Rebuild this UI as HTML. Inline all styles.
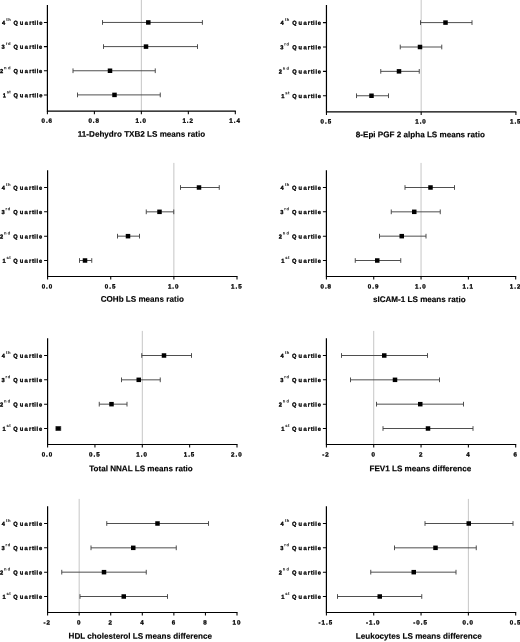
<!DOCTYPE html>
<html lang="en"><head><meta charset="utf-8"><title>Forest plots by quartile</title>
<style>html,body{margin:0;padding:0;background:#fff}body{width:520px;height:642px;overflow:hidden}svg{display:block}text{font-family:"Liberation Sans", sans-serif;font-weight:bold;fill:#000;stroke:#000;stroke-width:0.32px}.sp{stroke-width:0.08px}.tt{stroke-width:0.15px}.tk{stroke-width:0.3px}.lb{font-size:5.70px;letter-spacing:0.00px}.sp{font-size:4.10px;fill:#333;}.tk{font-size:6.20px;letter-spacing:1.00px}.tt{font-size:8.10px}</style></head><body>
<svg width="520" height="642" viewBox="0 0 520 642">
<rect x="0" y="0" width="520" height="642" fill="#ffffff"/>
<g>
<line x1="141.35" y1="0.00" x2="141.35" y2="111.10" stroke="#c6c6c6" stroke-width="1.00"/>
<path d="M102.50 22.45H202.40M102.50 20.10V24.80M202.40 20.10V24.80" stroke="#464646" stroke-width="0.95" fill="none"/>
<rect x="146.05" y="20.20" width="4.50" height="4.50" fill="#000"/>
<path d="M103.50 46.60H197.50M103.50 44.25V48.95M197.50 44.25V48.95" stroke="#464646" stroke-width="0.95" fill="none"/>
<rect x="143.75" y="44.35" width="4.50" height="4.50" fill="#000"/>
<path d="M73.00 70.75H155.25M73.00 68.40V73.10M155.25 68.40V73.10" stroke="#464646" stroke-width="0.95" fill="none"/>
<rect x="107.75" y="68.50" width="4.50" height="4.50" fill="#000"/>
<path d="M77.50 94.90H160.25M77.50 92.55V97.25M160.25 92.55V97.25" stroke="#464646" stroke-width="0.95" fill="none"/>
<rect x="112.25" y="92.65" width="4.50" height="4.50" fill="#000"/>
<path d="M47.40 5.10V111.10H235.83" stroke="#000" stroke-width="1.20" fill="none" stroke-linejoin="miter"/>
<path d="M47.40 22.45H43.90M47.40 46.60H43.90M47.40 70.75H43.90M47.40 94.90H43.90M47.40 111.10V114.20M94.38 111.10V114.20M141.35 111.10V114.20M188.33 111.10V114.20M235.30 111.10V114.20" stroke="#000" stroke-width="1.05" fill="none"/>
<text transform="rotate(0.05 1.89 24.70)" class="lb" x="1.89" y="24.70">4</text>
<text transform="rotate(0.05 6.25 20.90)" class="sp" x="6.25 8.15" y="20.90">th</text>
<text transform="rotate(0.05 13.47 24.70)" class="lb" x="13.47 19.87 24.78 29.15 32.16 34.41 36.71 39.13" y="24.70">Quartile</text>
<text transform="rotate(0.05 1.55 48.85)" class="lb" x="1.55" y="48.85">3</text>
<text transform="rotate(0.05 5.65 45.05)" class="sp" x="5.65 7.90" y="45.05">rd</text>
<text transform="rotate(0.05 13.47 48.85)" class="lb" x="13.47 19.87 24.78 29.15 32.16 34.41 36.71 39.13" y="48.85">Quartile</text>
<text transform="rotate(0.05 0.05 73.00)" class="lb" x="0.05" y="73.00">2</text>
<text transform="rotate(0.05 4.05 69.20)" class="sp" x="4.05 7.90" y="69.20">nd</text>
<text transform="rotate(0.05 13.47 73.00)" class="lb" x="13.47 19.87 24.78 29.15 32.16 34.41 36.71 39.13" y="73.00">Quartile</text>
<text transform="rotate(0.05 2.63 97.15)" class="lb" x="2.63" y="97.15">1</text>
<text transform="rotate(0.05 6.65 93.35)" class="sp" x="6.65 9.30" y="93.35">st</text>
<text transform="rotate(0.05 13.47 97.15)" class="lb" x="13.47 19.87 24.78 29.15 32.16 34.41 36.71 39.13" y="97.15">Quartile</text>
<text transform="rotate(0.05 47.25 122.75)" class="tk" x="47.25" y="122.75" text-anchor="middle">0.6</text>
<text transform="rotate(0.05 94.22 122.75)" class="tk" x="94.22" y="122.75" text-anchor="middle">0.8</text>
<text transform="rotate(0.05 141.20 122.75)" class="tk" x="141.20" y="122.75" text-anchor="middle">1.0</text>
<text transform="rotate(0.05 188.18 122.75)" class="tk" x="188.18" y="122.75" text-anchor="middle">1.2</text>
<text transform="rotate(0.05 235.15 122.75)" class="tk" x="235.15" y="122.75" text-anchor="middle">1.4</text>
<text transform="rotate(0.05 141.45 136.70)" class="tt" x="141.45" y="136.70" text-anchor="middle">11-Dehydro TXB2 LS means ratio</text>
</g>
<g>
<line x1="421.17" y1="0.00" x2="421.17" y2="111.90" stroke="#c6c6c6" stroke-width="1.00"/>
<path d="M420.50 22.60H472.00M420.50 20.25V24.95M472.00 20.25V24.95" stroke="#464646" stroke-width="0.95" fill="none"/>
<rect x="443.25" y="20.35" width="4.50" height="4.50" fill="#000"/>
<path d="M400.25 47.00H441.75M400.25 44.65V49.35M441.75 44.65V49.35" stroke="#464646" stroke-width="0.95" fill="none"/>
<rect x="417.75" y="44.75" width="4.50" height="4.50" fill="#000"/>
<path d="M380.75 71.35H419.25M380.75 69.00V73.70M419.25 69.00V73.70" stroke="#464646" stroke-width="0.95" fill="none"/>
<rect x="396.75" y="69.10" width="4.50" height="4.50" fill="#000"/>
<path d="M356.50 95.75H388.50M356.50 93.40V98.10M388.50 93.40V98.10" stroke="#464646" stroke-width="0.95" fill="none"/>
<rect x="369.25" y="93.50" width="4.50" height="4.50" fill="#000"/>
<path d="M326.45 5.10V111.90H516.42" stroke="#000" stroke-width="1.20" fill="none" stroke-linejoin="miter"/>
<path d="M326.45 22.60H322.95M326.45 47.00H322.95M326.45 71.35H322.95M326.45 95.75H322.95M326.45 111.90V115.00M421.17 111.90V115.00M515.90 111.90V115.00" stroke="#000" stroke-width="1.05" fill="none"/>
<text transform="rotate(0.05 280.59 24.85)" class="lb" x="280.59" y="24.85">4</text>
<text transform="rotate(0.05 284.95 21.05)" class="sp" x="284.95 286.85" y="21.05">th</text>
<text transform="rotate(0.05 292.17 24.85)" class="lb" x="292.17 298.57 303.48 307.85 310.86 313.11 315.41 317.83" y="24.85">Quartile</text>
<text transform="rotate(0.05 280.25 49.25)" class="lb" x="280.25" y="49.25">3</text>
<text transform="rotate(0.05 284.35 45.45)" class="sp" x="284.35 286.60" y="45.45">rd</text>
<text transform="rotate(0.05 292.17 49.25)" class="lb" x="292.17 298.57 303.48 307.85 310.86 313.11 315.41 317.83" y="49.25">Quartile</text>
<text transform="rotate(0.05 278.75 73.60)" class="lb" x="278.75" y="73.60">2</text>
<text transform="rotate(0.05 282.75 69.80)" class="sp" x="282.75 286.60" y="69.80">nd</text>
<text transform="rotate(0.05 292.17 73.60)" class="lb" x="292.17 298.57 303.48 307.85 310.86 313.11 315.41 317.83" y="73.60">Quartile</text>
<text transform="rotate(0.05 281.33 98.00)" class="lb" x="281.33" y="98.00">1</text>
<text transform="rotate(0.05 285.35 94.20)" class="sp" x="285.35 288.00" y="94.20">st</text>
<text transform="rotate(0.05 292.17 98.00)" class="lb" x="292.17 298.57 303.48 307.85 310.86 313.11 315.41 317.83" y="98.00">Quartile</text>
<text transform="rotate(0.05 326.30 123.55)" class="tk" x="326.30" y="123.55" text-anchor="middle">0.5</text>
<text transform="rotate(0.05 421.02 123.55)" class="tk" x="421.02" y="123.55" text-anchor="middle">1.0</text>
<text transform="rotate(0.05 515.75 123.55)" class="tk" x="515.75" y="123.55" text-anchor="middle">1.5</text>
<text transform="rotate(0.05 420.38 137.30)" class="tt" x="420.38" y="137.30" text-anchor="middle">8-Epi PGF 2 alpha LS means ratio</text>
</g>
<g>
<line x1="173.87" y1="162.90" x2="173.87" y2="276.50" stroke="#c6c6c6" stroke-width="1.00"/>
<path d="M180.50 187.50H219.25M180.50 185.15V189.85M219.25 185.15V189.85" stroke="#464646" stroke-width="0.95" fill="none"/>
<rect x="196.75" y="185.25" width="4.50" height="4.50" fill="#000"/>
<path d="M146.25 211.83H173.75M146.25 209.48V214.18M173.75 209.48V214.18" stroke="#464646" stroke-width="0.95" fill="none"/>
<rect x="157.25" y="209.58" width="4.50" height="4.50" fill="#000"/>
<path d="M117.50 236.17H139.50M117.50 233.82V238.52M139.50 233.82V238.52" stroke="#464646" stroke-width="0.95" fill="none"/>
<rect x="125.75" y="233.92" width="4.50" height="4.50" fill="#000"/>
<path d="M79.50 260.50H91.75M79.50 258.15V262.85M91.75 258.15V262.85" stroke="#464646" stroke-width="0.95" fill="none"/>
<rect x="82.75" y="258.25" width="4.50" height="4.50" fill="#000"/>
<path d="M47.60 170.20V276.50H237.53" stroke="#000" stroke-width="1.20" fill="none" stroke-linejoin="miter"/>
<path d="M47.60 187.50H44.10M47.60 211.83H44.10M47.60 236.17H44.10M47.60 260.50H44.10M47.60 276.50V279.60M110.73 276.50V279.60M173.87 276.50V279.60M237.00 276.50V279.60" stroke="#000" stroke-width="1.05" fill="none"/>
<text transform="rotate(0.05 1.74 189.75)" class="lb" x="1.74" y="189.75">4</text>
<text transform="rotate(0.05 6.10 185.95)" class="sp" x="6.10 8.00" y="185.95">th</text>
<text transform="rotate(0.05 13.32 189.75)" class="lb" x="13.32 19.72 24.63 29.00 32.01 34.26 36.56 38.98" y="189.75">Quartile</text>
<text transform="rotate(0.05 1.40 214.08)" class="lb" x="1.40" y="214.08">3</text>
<text transform="rotate(0.05 5.50 210.28)" class="sp" x="5.50 7.75" y="210.28">rd</text>
<text transform="rotate(0.05 13.32 214.08)" class="lb" x="13.32 19.72 24.63 29.00 32.01 34.26 36.56 38.98" y="214.08">Quartile</text>
<text transform="rotate(0.05 -0.10 238.42)" class="lb" x="-0.10" y="238.42">2</text>
<text transform="rotate(0.05 3.90 234.62)" class="sp" x="3.90 7.75" y="234.62">nd</text>
<text transform="rotate(0.05 13.32 238.42)" class="lb" x="13.32 19.72 24.63 29.00 32.01 34.26 36.56 38.98" y="238.42">Quartile</text>
<text transform="rotate(0.05 2.48 262.75)" class="lb" x="2.48" y="262.75">1</text>
<text transform="rotate(0.05 6.50 258.95)" class="sp" x="6.50 9.15" y="258.95">st</text>
<text transform="rotate(0.05 13.32 262.75)" class="lb" x="13.32 19.72 24.63 29.00 32.01 34.26 36.56 38.98" y="262.75">Quartile</text>
<text transform="rotate(0.05 47.45 288.60)" class="tk" x="47.45" y="288.60" text-anchor="middle">0.0</text>
<text transform="rotate(0.05 110.58 288.60)" class="tk" x="110.58" y="288.60" text-anchor="middle">0.5</text>
<text transform="rotate(0.05 173.72 288.60)" class="tk" x="173.72" y="288.60" text-anchor="middle">1.0</text>
<text transform="rotate(0.05 236.85 288.60)" class="tk" x="236.85" y="288.60" text-anchor="middle">1.5</text>
<text transform="rotate(0.05 142.25 301.80)" class="tt" x="142.25" y="301.80" text-anchor="middle">COHb LS means ratio</text>
</g>
<g>
<line x1="421.05" y1="162.90" x2="421.05" y2="276.50" stroke="#c6c6c6" stroke-width="1.00"/>
<path d="M405.00 187.50H454.50M405.00 185.15V189.85M454.50 185.15V189.85" stroke="#464646" stroke-width="0.95" fill="none"/>
<rect x="428.25" y="185.25" width="4.50" height="4.50" fill="#000"/>
<path d="M391.25 211.83H440.25M391.25 209.48V214.18M440.25 209.48V214.18" stroke="#464646" stroke-width="0.95" fill="none"/>
<rect x="412.00" y="209.58" width="4.50" height="4.50" fill="#000"/>
<path d="M379.50 236.17H426.00M379.50 233.82V238.52M426.00 233.82V238.52" stroke="#464646" stroke-width="0.95" fill="none"/>
<rect x="399.50" y="233.92" width="4.50" height="4.50" fill="#000"/>
<path d="M355.25 260.50H400.75M355.25 258.15V262.85M400.75 258.15V262.85" stroke="#464646" stroke-width="0.95" fill="none"/>
<rect x="375.00" y="258.25" width="4.50" height="4.50" fill="#000"/>
<path d="M326.40 170.20V276.50H516.23" stroke="#000" stroke-width="1.20" fill="none" stroke-linejoin="miter"/>
<path d="M326.40 187.50H322.90M326.40 211.83H322.90M326.40 236.17H322.90M326.40 260.50H322.90M326.40 276.50V279.60M373.73 276.50V279.60M421.05 276.50V279.60M468.38 276.50V279.60M515.70 276.50V279.60" stroke="#000" stroke-width="1.05" fill="none"/>
<text transform="rotate(0.05 280.54 189.75)" class="lb" x="280.54" y="189.75">4</text>
<text transform="rotate(0.05 284.90 185.95)" class="sp" x="284.90 286.80" y="185.95">th</text>
<text transform="rotate(0.05 292.12 189.75)" class="lb" x="292.12 298.52 303.43 307.80 310.81 313.06 315.36 317.78" y="189.75">Quartile</text>
<text transform="rotate(0.05 280.20 214.08)" class="lb" x="280.20" y="214.08">3</text>
<text transform="rotate(0.05 284.30 210.28)" class="sp" x="284.30 286.55" y="210.28">rd</text>
<text transform="rotate(0.05 292.12 214.08)" class="lb" x="292.12 298.52 303.43 307.80 310.81 313.06 315.36 317.78" y="214.08">Quartile</text>
<text transform="rotate(0.05 278.70 238.42)" class="lb" x="278.70" y="238.42">2</text>
<text transform="rotate(0.05 282.70 234.62)" class="sp" x="282.70 286.55" y="234.62">nd</text>
<text transform="rotate(0.05 292.12 238.42)" class="lb" x="292.12 298.52 303.43 307.80 310.81 313.06 315.36 317.78" y="238.42">Quartile</text>
<text transform="rotate(0.05 281.28 262.75)" class="lb" x="281.28" y="262.75">1</text>
<text transform="rotate(0.05 285.30 258.95)" class="sp" x="285.30 287.95" y="258.95">st</text>
<text transform="rotate(0.05 292.12 262.75)" class="lb" x="292.12 298.52 303.43 307.80 310.81 313.06 315.36 317.78" y="262.75">Quartile</text>
<text transform="rotate(0.05 326.25 288.60)" class="tk" x="326.25" y="288.60" text-anchor="middle">0.8</text>
<text transform="rotate(0.05 373.58 288.60)" class="tk" x="373.58" y="288.60" text-anchor="middle">0.9</text>
<text transform="rotate(0.05 420.90 288.60)" class="tk" x="420.90" y="288.60" text-anchor="middle">1.0</text>
<text transform="rotate(0.05 468.23 288.60)" class="tk" x="468.23" y="288.60" text-anchor="middle">1.1</text>
<text transform="rotate(0.05 515.55 288.60)" class="tk" x="515.55" y="288.60" text-anchor="middle">1.2</text>
<text transform="rotate(0.05 419.25 302.10)" class="tt" x="419.25" y="302.10" text-anchor="middle">sICAM-1 LS means ratio</text>
</g>
<g>
<line x1="142.30" y1="330.90" x2="142.30" y2="444.50" stroke="#c6c6c6" stroke-width="1.00"/>
<path d="M141.75 355.50H191.50M141.75 353.15V357.85M191.50 353.15V357.85" stroke="#464646" stroke-width="0.95" fill="none"/>
<rect x="161.75" y="353.25" width="4.50" height="4.50" fill="#000"/>
<path d="M121.50 379.83H160.25M121.50 377.48V382.18M160.25 377.48V382.18" stroke="#464646" stroke-width="0.95" fill="none"/>
<rect x="136.50" y="377.58" width="4.50" height="4.50" fill="#000"/>
<path d="M99.25 404.17H127.00M99.25 401.82V406.52M127.00 401.82V406.52" stroke="#464646" stroke-width="0.95" fill="none"/>
<rect x="109.25" y="401.92" width="4.50" height="4.50" fill="#000"/>
<path d="M55.90 428.50H60.70M55.90 426.15V430.85M60.70 426.15V430.85" stroke="#464646" stroke-width="0.95" fill="none"/>
<rect x="56.05" y="426.25" width="4.50" height="4.50" fill="#000"/>
<path d="M47.60 338.20V444.50H237.53" stroke="#000" stroke-width="1.20" fill="none" stroke-linejoin="miter"/>
<path d="M47.60 355.50H44.10M47.60 379.83H44.10M47.60 404.17H44.10M47.60 428.50H44.10M47.60 444.50V447.60M94.95 444.50V447.60M142.30 444.50V447.60M189.65 444.50V447.60M237.00 444.50V447.60" stroke="#000" stroke-width="1.05" fill="none"/>
<text transform="rotate(0.05 1.74 357.75)" class="lb" x="1.74" y="357.75">4</text>
<text transform="rotate(0.05 6.10 353.95)" class="sp" x="6.10 8.00" y="353.95">th</text>
<text transform="rotate(0.05 13.32 357.75)" class="lb" x="13.32 19.72 24.63 29.00 32.01 34.26 36.56 38.98" y="357.75">Quartile</text>
<text transform="rotate(0.05 1.40 382.08)" class="lb" x="1.40" y="382.08">3</text>
<text transform="rotate(0.05 5.50 378.28)" class="sp" x="5.50 7.75" y="378.28">rd</text>
<text transform="rotate(0.05 13.32 382.08)" class="lb" x="13.32 19.72 24.63 29.00 32.01 34.26 36.56 38.98" y="382.08">Quartile</text>
<text transform="rotate(0.05 -0.10 406.42)" class="lb" x="-0.10" y="406.42">2</text>
<text transform="rotate(0.05 3.90 402.62)" class="sp" x="3.90 7.75" y="402.62">nd</text>
<text transform="rotate(0.05 13.32 406.42)" class="lb" x="13.32 19.72 24.63 29.00 32.01 34.26 36.56 38.98" y="406.42">Quartile</text>
<text transform="rotate(0.05 2.48 430.75)" class="lb" x="2.48" y="430.75">1</text>
<text transform="rotate(0.05 6.50 426.95)" class="sp" x="6.50 9.15" y="426.95">st</text>
<text transform="rotate(0.05 13.32 430.75)" class="lb" x="13.32 19.72 24.63 29.00 32.01 34.26 36.56 38.98" y="430.75">Quartile</text>
<text transform="rotate(0.05 47.45 456.60)" class="tk" x="47.45" y="456.60" text-anchor="middle">0.0</text>
<text transform="rotate(0.05 94.80 456.60)" class="tk" x="94.80" y="456.60" text-anchor="middle">0.5</text>
<text transform="rotate(0.05 142.15 456.60)" class="tk" x="142.15" y="456.60" text-anchor="middle">1.0</text>
<text transform="rotate(0.05 189.50 456.60)" class="tk" x="189.50" y="456.60" text-anchor="middle">1.5</text>
<text transform="rotate(0.05 236.85 456.60)" class="tk" x="236.85" y="456.60" text-anchor="middle">2.0</text>
<text transform="rotate(0.05 141.00 471.20)" class="tt" x="141.00" y="471.20" text-anchor="middle">Total NNAL LS means ratio</text>
</g>
<g>
<line x1="373.73" y1="330.90" x2="373.73" y2="444.50" stroke="#c6c6c6" stroke-width="1.00"/>
<path d="M341.50 355.50H427.50M341.50 353.15V357.85M427.50 353.15V357.85" stroke="#464646" stroke-width="0.95" fill="none"/>
<rect x="382.00" y="353.25" width="4.50" height="4.50" fill="#000"/>
<path d="M350.50 379.83H439.50M350.50 377.48V382.18M439.50 377.48V382.18" stroke="#464646" stroke-width="0.95" fill="none"/>
<rect x="392.75" y="377.58" width="4.50" height="4.50" fill="#000"/>
<path d="M376.50 404.17H463.50M376.50 401.82V406.52M463.50 401.82V406.52" stroke="#464646" stroke-width="0.95" fill="none"/>
<rect x="418.00" y="401.92" width="4.50" height="4.50" fill="#000"/>
<path d="M383.00 428.50H473.00M383.00 426.15V430.85M473.00 426.15V430.85" stroke="#464646" stroke-width="0.95" fill="none"/>
<rect x="425.75" y="426.25" width="4.50" height="4.50" fill="#000"/>
<path d="M326.40 338.20V444.50H516.23" stroke="#000" stroke-width="1.20" fill="none" stroke-linejoin="miter"/>
<path d="M326.40 355.50H322.90M326.40 379.83H322.90M326.40 404.17H322.90M326.40 428.50H322.90M326.40 444.50V447.60M373.73 444.50V447.60M421.05 444.50V447.60M468.38 444.50V447.60M515.70 444.50V447.60" stroke="#000" stroke-width="1.05" fill="none"/>
<text transform="rotate(0.05 280.54 357.75)" class="lb" x="280.54" y="357.75">4</text>
<text transform="rotate(0.05 284.90 353.95)" class="sp" x="284.90 286.80" y="353.95">th</text>
<text transform="rotate(0.05 292.12 357.75)" class="lb" x="292.12 298.52 303.43 307.80 310.81 313.06 315.36 317.78" y="357.75">Quartile</text>
<text transform="rotate(0.05 280.20 382.08)" class="lb" x="280.20" y="382.08">3</text>
<text transform="rotate(0.05 284.30 378.28)" class="sp" x="284.30 286.55" y="378.28">rd</text>
<text transform="rotate(0.05 292.12 382.08)" class="lb" x="292.12 298.52 303.43 307.80 310.81 313.06 315.36 317.78" y="382.08">Quartile</text>
<text transform="rotate(0.05 278.70 406.42)" class="lb" x="278.70" y="406.42">2</text>
<text transform="rotate(0.05 282.70 402.62)" class="sp" x="282.70 286.55" y="402.62">nd</text>
<text transform="rotate(0.05 292.12 406.42)" class="lb" x="292.12 298.52 303.43 307.80 310.81 313.06 315.36 317.78" y="406.42">Quartile</text>
<text transform="rotate(0.05 281.28 430.75)" class="lb" x="281.28" y="430.75">1</text>
<text transform="rotate(0.05 285.30 426.95)" class="sp" x="285.30 287.95" y="426.95">st</text>
<text transform="rotate(0.05 292.12 430.75)" class="lb" x="292.12 298.52 303.43 307.80 310.81 313.06 315.36 317.78" y="430.75">Quartile</text>
<text transform="rotate(0.05 326.05 456.60)" class="tk" x="326.05" y="456.60" text-anchor="middle">-2</text>
<text transform="rotate(0.05 373.83 456.60)" class="tk" x="373.83" y="456.60" text-anchor="middle">0</text>
<text transform="rotate(0.05 421.15 456.60)" class="tk" x="421.15" y="456.60" text-anchor="middle">2</text>
<text transform="rotate(0.05 468.48 456.60)" class="tk" x="468.48" y="456.60" text-anchor="middle">4</text>
<text transform="rotate(0.05 515.80 456.60)" class="tk" x="515.80" y="456.60" text-anchor="middle">6</text>
<text transform="rotate(0.05 420.38 471.20)" class="tt" x="420.38" y="471.20" text-anchor="middle">FEV1 LS means difference</text>
</g>
<g>
<line x1="79.17" y1="498.90" x2="79.17" y2="612.50" stroke="#c6c6c6" stroke-width="1.00"/>
<path d="M106.75 523.50H208.50M106.75 521.15V525.85M208.50 521.15V525.85" stroke="#464646" stroke-width="0.95" fill="none"/>
<rect x="155.25" y="521.25" width="4.50" height="4.50" fill="#000"/>
<path d="M91.00 547.83H176.25M91.00 545.48V550.18M176.25 545.48V550.18" stroke="#464646" stroke-width="0.95" fill="none"/>
<rect x="131.00" y="545.58" width="4.50" height="4.50" fill="#000"/>
<path d="M61.75 572.17H146.25M61.75 569.82V574.52M146.25 569.82V574.52" stroke="#464646" stroke-width="0.95" fill="none"/>
<rect x="101.75" y="569.92" width="4.50" height="4.50" fill="#000"/>
<path d="M80.00 596.50H167.50M80.00 594.15V598.85M167.50 594.15V598.85" stroke="#464646" stroke-width="0.95" fill="none"/>
<rect x="121.50" y="594.25" width="4.50" height="4.50" fill="#000"/>
<path d="M47.60 506.20V612.50H237.53" stroke="#000" stroke-width="1.20" fill="none" stroke-linejoin="miter"/>
<path d="M47.60 523.50H44.10M47.60 547.83H44.10M47.60 572.17H44.10M47.60 596.50H44.10M47.60 612.50V615.60M79.17 612.50V615.60M110.73 612.50V615.60M142.30 612.50V615.60M173.87 612.50V615.60M205.43 612.50V615.60M237.00 612.50V615.60" stroke="#000" stroke-width="1.05" fill="none"/>
<text transform="rotate(0.05 1.74 525.75)" class="lb" x="1.74" y="525.75">4</text>
<text transform="rotate(0.05 6.10 521.95)" class="sp" x="6.10 8.00" y="521.95">th</text>
<text transform="rotate(0.05 13.32 525.75)" class="lb" x="13.32 19.72 24.63 29.00 32.01 34.26 36.56 38.98" y="525.75">Quartile</text>
<text transform="rotate(0.05 1.40 550.08)" class="lb" x="1.40" y="550.08">3</text>
<text transform="rotate(0.05 5.50 546.28)" class="sp" x="5.50 7.75" y="546.28">rd</text>
<text transform="rotate(0.05 13.32 550.08)" class="lb" x="13.32 19.72 24.63 29.00 32.01 34.26 36.56 38.98" y="550.08">Quartile</text>
<text transform="rotate(0.05 -0.10 574.42)" class="lb" x="-0.10" y="574.42">2</text>
<text transform="rotate(0.05 3.90 570.62)" class="sp" x="3.90 7.75" y="570.62">nd</text>
<text transform="rotate(0.05 13.32 574.42)" class="lb" x="13.32 19.72 24.63 29.00 32.01 34.26 36.56 38.98" y="574.42">Quartile</text>
<text transform="rotate(0.05 2.48 598.75)" class="lb" x="2.48" y="598.75">1</text>
<text transform="rotate(0.05 6.50 594.95)" class="sp" x="6.50 9.15" y="594.95">st</text>
<text transform="rotate(0.05 13.32 598.75)" class="lb" x="13.32 19.72 24.63 29.00 32.01 34.26 36.56 38.98" y="598.75">Quartile</text>
<text transform="rotate(0.05 47.25 624.60)" class="tk" x="47.25" y="624.60" text-anchor="middle">-2</text>
<text transform="rotate(0.05 79.27 624.60)" class="tk" x="79.27" y="624.60" text-anchor="middle">0</text>
<text transform="rotate(0.05 110.83 624.60)" class="tk" x="110.83" y="624.60" text-anchor="middle">2</text>
<text transform="rotate(0.05 142.40 624.60)" class="tk" x="142.40" y="624.60" text-anchor="middle">4</text>
<text transform="rotate(0.05 173.97 624.60)" class="tk" x="173.97" y="624.60" text-anchor="middle">6</text>
<text transform="rotate(0.05 205.53 624.60)" class="tk" x="205.53" y="624.60" text-anchor="middle">8</text>
<text transform="rotate(0.05 237.00 624.60)" class="tk" x="237.00" y="624.60" text-anchor="middle">10</text>
<text transform="rotate(0.05 140.25 638.70)" class="tt" x="140.25" y="638.70" text-anchor="middle">HDL cholesterol LS means difference</text>
</g>
<g>
<line x1="468.38" y1="498.90" x2="468.38" y2="612.50" stroke="#c6c6c6" stroke-width="1.00"/>
<path d="M425.00 523.50H513.00M425.00 521.15V525.85M513.00 521.15V525.85" stroke="#464646" stroke-width="0.95" fill="none"/>
<rect x="466.50" y="521.25" width="4.50" height="4.50" fill="#000"/>
<path d="M394.50 547.83H476.25M394.50 545.48V550.18M476.25 545.48V550.18" stroke="#464646" stroke-width="0.95" fill="none"/>
<rect x="433.25" y="545.58" width="4.50" height="4.50" fill="#000"/>
<path d="M370.75 572.17H456.00M370.75 569.82V574.52M456.00 569.82V574.52" stroke="#464646" stroke-width="0.95" fill="none"/>
<rect x="411.50" y="569.92" width="4.50" height="4.50" fill="#000"/>
<path d="M337.50 596.50H421.75M337.50 594.15V598.85M421.75 594.15V598.85" stroke="#464646" stroke-width="0.95" fill="none"/>
<rect x="377.50" y="594.25" width="4.50" height="4.50" fill="#000"/>
<path d="M326.40 506.20V612.50H516.23" stroke="#000" stroke-width="1.20" fill="none" stroke-linejoin="miter"/>
<path d="M326.40 523.50H322.90M326.40 547.83H322.90M326.40 572.17H322.90M326.40 596.50H322.90M326.40 612.50V615.60M373.73 612.50V615.60M421.05 612.50V615.60M468.38 612.50V615.60M515.70 612.50V615.60" stroke="#000" stroke-width="1.05" fill="none"/>
<text transform="rotate(0.05 280.54 525.75)" class="lb" x="280.54" y="525.75">4</text>
<text transform="rotate(0.05 284.90 521.95)" class="sp" x="284.90 286.80" y="521.95">th</text>
<text transform="rotate(0.05 292.12 525.75)" class="lb" x="292.12 298.52 303.43 307.80 310.81 313.06 315.36 317.78" y="525.75">Quartile</text>
<text transform="rotate(0.05 280.20 550.08)" class="lb" x="280.20" y="550.08">3</text>
<text transform="rotate(0.05 284.30 546.28)" class="sp" x="284.30 286.55" y="546.28">rd</text>
<text transform="rotate(0.05 292.12 550.08)" class="lb" x="292.12 298.52 303.43 307.80 310.81 313.06 315.36 317.78" y="550.08">Quartile</text>
<text transform="rotate(0.05 278.70 574.42)" class="lb" x="278.70" y="574.42">2</text>
<text transform="rotate(0.05 282.70 570.62)" class="sp" x="282.70 286.55" y="570.62">nd</text>
<text transform="rotate(0.05 292.12 574.42)" class="lb" x="292.12 298.52 303.43 307.80 310.81 313.06 315.36 317.78" y="574.42">Quartile</text>
<text transform="rotate(0.05 281.28 598.75)" class="lb" x="281.28" y="598.75">1</text>
<text transform="rotate(0.05 285.30 594.95)" class="sp" x="285.30 287.95" y="594.95">st</text>
<text transform="rotate(0.05 292.12 598.75)" class="lb" x="292.12 298.52 303.43 307.80 310.81 313.06 315.36 317.78" y="598.75">Quartile</text>
<text transform="rotate(0.05 325.90 624.60)" class="tk" x="325.90" y="624.60" text-anchor="middle">-1.5</text>
<text transform="rotate(0.05 373.23 624.60)" class="tk" x="373.23" y="624.60" text-anchor="middle">-1.0</text>
<text transform="rotate(0.05 420.55 624.60)" class="tk" x="420.55" y="624.60" text-anchor="middle">-0.5</text>
<text transform="rotate(0.05 468.23 624.60)" class="tk" x="468.23" y="624.60" text-anchor="middle">0.0</text>
<text transform="rotate(0.05 515.55 624.60)" class="tk" x="515.55" y="624.60" text-anchor="middle">0.5</text>
<text transform="rotate(0.05 418.75 638.70)" class="tt" x="418.75" y="638.70" text-anchor="middle">Leukocytes LS means difference</text>
</g>
</svg></body></html>
